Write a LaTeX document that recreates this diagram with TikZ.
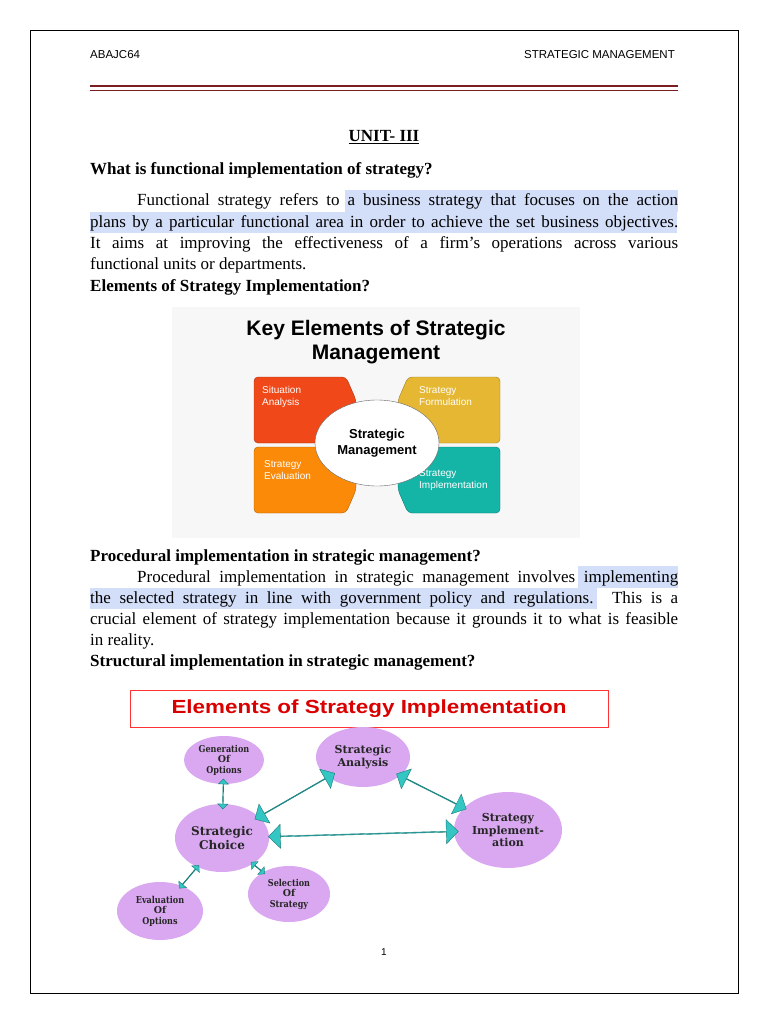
\documentclass[tikz,border=0pt]{standalone}
\usepackage{fontspec}
\setmainfont{Liberation Serif}
\newfontfamily\hdr{Liberation Sans}
\newfontfamily\sans{Liberation Sans}
\newfontfamily\dser{DejaVu Serif}
\usetikzlibrary{shapes.arrows,shapes.geometric}
\definecolor{hl}{HTML}{D3DEF8}
\definecolor{rule}{HTML}{7B1E22}
\definecolor{cred}{HTML}{F04818}
\definecolor{cyel}{HTML}{E5B732}
\definecolor{cora}{HTML}{FA8A08}
\definecolor{ctea}{HTML}{14B4A6}
\definecolor{lav}{HTML}{D9A8F0}
\definecolor{arr}{HTML}{33C6C2}
\definecolor{arrd}{HTML}{1C7C7A}
\begin{document}
\begin{tikzpicture}[x=1pt,y=-1pt,
  bodyfont/.style={font=\fontsize{17}{20}\selectfont},
  body/.style={anchor=base west,inner sep=0pt,bodyfont},
  bbody/.style={anchor=base west,inner sep=0pt,font=\bfseries\fontsize{17}{20}\selectfont},
  quad/.style={fill=#1,draw=#1!70!black,line width=.4pt,rounded corners=4pt},
  qtext/.style={anchor=north west,align=left,inner sep=0pt,text=white,font=\sans\fontsize{10}{12.5}\selectfont},
  bub/.style={ellipse,fill=lav,inner sep=0pt,align=center,font=\dser\bfseries\fontsize{9.5}{10.5}\selectfont,text=black!85},
  darr/.style={double arrow,fill=arr,draw=arrd,line width=.4pt,inner sep=0pt,double arrow head extend=5pt,minimum width=#1,sloped}]
\useasboundingbox (0,0) rectangle (768,1024);
\fill[white] (0,0) rectangle (768,1024);
\draw[line width=.8pt] (30,30) rectangle (738,993);
\node[anchor=base west,inner sep=0,font=\hdr\fontsize{11.5}{12}\selectfont] (h1) at (90,59) {ABAJC64};
\node[anchor=base east,inner sep=0,font=\hdr\fontsize{11.5}{12}\selectfont] (h2) at (675,59) {STRATEGIC MANAGEMENT};
\draw[rule,line width=2.6pt] (90,86) -- (678,86);
\draw[rule,line width=.8pt] (90,90.5) -- (678,90.5);
% highlights
\fill[hl] (345,190) rectangle (678,212);
\fill[hl] (90,212) rectangle (677,233);
\fill[hl] (578,566) rectangle (678,588);
\fill[hl] (90,588) rectangle (597,609);
\node[bbody,anchor=base] (u) at (384,142) {\underline{UNIT- III}};
\node[bbody] (q1) at (90,175) {What is functional implementation of strategy?};
\node[body] (l1) at (137,206) {\makebox[541pt][s]{Functional strategy refers to a business strategy that focuses on the action}};
\node[body] (l2) at (90,227) {\makebox[588pt][s]{plans by a particular functional area in order to achieve the set business objectives.}};
\node[body] (l3) at (90,248) {\makebox[588pt][s]{It aims at improving the effectiveness of a firm's operations across various}};
\node[body] (l4) at (90,269) {functional units or departments.};
\node[bbody] (q2) at (90,291) {Elements of Strategy Implementation?};
\node[bbody] (q3) at (90,561) {Procedural implementation in strategic management?};
\node[body] (m1) at (137,582) {\makebox[541pt][s]{Procedural implementation in strategic management involves implementing}};
\node[body] (m2) at (90,603) {\makebox[588pt][s]{the selected strategy in line with government policy and regulations. This is a}};
\node[body] (m3) at (90,624) {\makebox[588pt][s]{crucial element of strategy implementation because it grounds it to what is feasible}};
\node[body] (m4) at (90,645) {in reality.};
\node[bbody] (q4) at (90,666) {Structural implementation in strategic management?};
% figure 1
\fill[black!3] (172,307) rectangle (580,538);
\node[align=center,font=\sans\bfseries\fontsize{21}{24}\selectfont] (t1) at (376,342) {Key Elements of Strategic\\Management};
\draw[quad=cred] (254,377) -- (346,377) -- (356,400) -- (356,443) -- (254,443) -- cycle;
\draw[quad=cyel] (408,377) -- (500,377) -- (500,443) -- (398,443) -- (398,400) -- cycle;
\draw[quad=cora] (254,447) -- (356,447) -- (356,490) -- (346,513) -- (254,513) -- cycle;
\draw[quad=ctea] (398,447) -- (500,447) -- (500,513) -- (408,513) -- (398,490) -- cycle;
\node[ellipse,fill=white,draw=black!60,minimum width=124pt,minimum height=86pt,align=center,font=\sans\bfseries\fontsize{13}{16}\selectfont] (sm) at (377,443) {Strategic\\Management};
\node[qtext] (sa) at (262,386) {Situation\\Analysis};
\node[qtext] (sf) at (419,386) {Strategy\\Formulation};
\node[qtext] (se) at (264,460) {Strategy\\Evaluation};
\node[qtext] (si) at (419,469) {Strategy\\Implementation};
% figure 2
\node[draw=red!80,line width=.8pt,minimum width=478pt,minimum height=37pt,text=red!85!black,font=\sans\bfseries\fontsize{19}{20}\selectfont] (t2) at (369,709) {\scalebox{1.18}[1]{Elements of Strategy Implementation}};
\node[bub,minimum width=80pt,minimum height=48pt] (gen) at (224,760) {\scalebox{.85}[1]{Generation}\\Of\\\scalebox{.85}[1]{Options}};
\node[bub,minimum width=94pt,minimum height=60pt,font=\dser\bfseries\fontsize{11}{12.5}\selectfont] (an) at (363,757) {Strategic\\Analysis};
\node[bub,minimum width=108pt,minimum height=76pt,font=\dser\bfseries\fontsize{11}{12.5}\selectfont] (imp) at (508,830) {Strategy\\Implement-\\ation};
\node[bub,minimum width=94pt,minimum height=68pt,font=\dser\bfseries\fontsize{12}{14}\selectfont] (ch) at (222,838) {Strategic\\Choice};
\node[bub,minimum width=82pt,minimum height=56pt] (sel) at (289,894) {\scalebox{.85}[1]{Selection}\\Of\\\scalebox{.85}[1]{Strategy}};
\node[bub,minimum width=86pt,minimum height=58pt] (ev) at (160,911) {\scalebox{.85}[1]{Evaluation}\\Of\\\scalebox{.85}[1]{Options}};
\path (ch) -- (an) node[pos=.52,darr=22pt,minimum height=92pt] (a1) {};
\path (an) -- (imp) node[pos=.49,darr=22pt,minimum height=78pt] (a2) {};
\path (ch) -- (imp) node[pos=.51,darr=24pt,minimum height=190pt] (a3) {};
\path (gen) -- (ch) node[pos=.5,darr=10pt,double arrow head extend=2.5pt,minimum height=30pt] (a4) {};
\path (ch) -- (sel) node[pos=.5,darr=10pt,double arrow head extend=2.5pt,minimum height=18pt] (a5) {};
\path (ch) -- (ev) node[pos=.52,darr=10pt,double arrow head extend=2.5pt,minimum height=30pt] (a6) {};
\node[font=\hdr\fontsize{10}{12}\selectfont] (pn) at (384,952) {1};
\end{tikzpicture}
\end{document}
